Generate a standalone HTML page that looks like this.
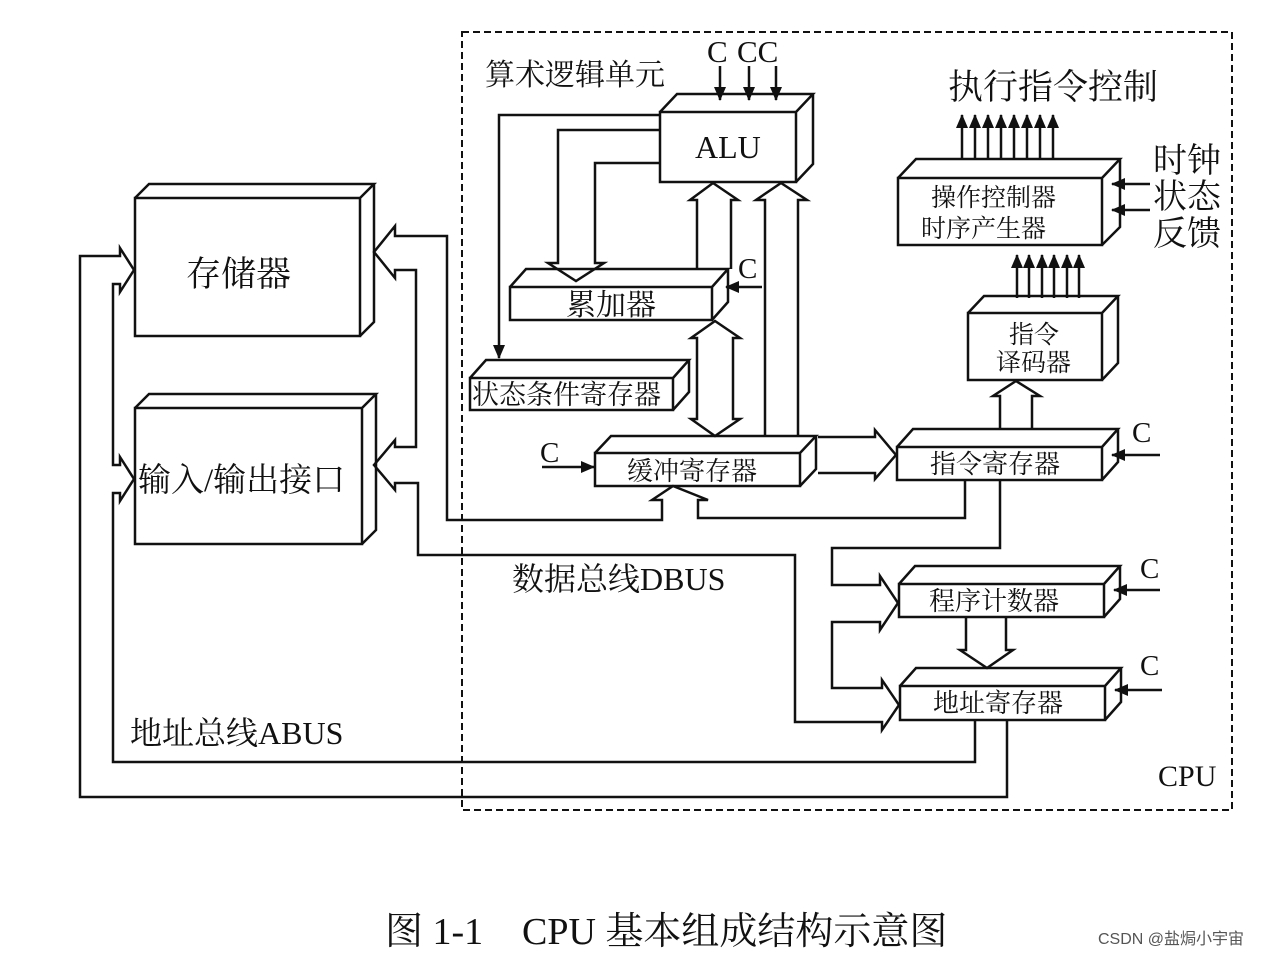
<!DOCTYPE html>
<html><head><meta charset="utf-8"><style>
html,body{margin:0;padding:0;background:#fff;}
svg{display:block;}
text{font-family:"Liberation Serif","Noto Serif CJK SC","Noto Sans CJK SC",serif;fill:#111;}
</style></head><body>
<svg width="1286" height="956" viewBox="0 0 1286 956" xmlns="http://www.w3.org/2000/svg">
<defs>
<marker id="ahb" markerWidth="14" markerHeight="12" refX="13" refY="6" orient="auto" markerUnits="userSpaceOnUse">
<path d="M0,0 L14,6 L0,12 Z" fill="#111"/></marker>
</defs>
<g fill="none" stroke="#111" stroke-width="2.5" stroke-linejoin="miter">
<rect x="462" y="32" width="770" height="778" stroke-dasharray="7,4" stroke-width="2"/>
<path d="M135,198 H360 V336 H135 Z M135,198 L149,184 H374 L360,198 M374,184 V322 L360,336" fill="#fff"/>
<path d="M135,408 H362 V544 H135 Z M135,408 L149,394 H376 L362,408 M376,394 V530 L362,544" fill="#fff"/>
<path d="M660,112 H796 V182 H660 Z M660,112 L677,94 H813 L796,112 M813,94 V164 L796,182" fill="#fff"/>
<path d="M510,287 H712 V320 H510 Z M510,287 L526,269 H728 L712,287 M728,269 V302 L712,320" fill="#fff"/>
<path d="M470,378 H673 V410 H470 Z M470,378 L486,360 H689 L673,378 M689,360 V392 L673,410" fill="#fff"/>
<path d="M595,453 H800 V486 H595 Z M595,453 L611,436 H816 L800,453 M816,436 V469 L800,486" fill="#fff"/>
<path d="M897,447 H1102 V480 H897 Z M897,447 L913,429 H1118 L1102,447 M1118,429 V462 L1102,480" fill="#fff"/>
<path d="M899,584 H1104 V617 H899 Z M899,584 L915,566 H1120 L1104,584 M1120,566 V599 L1104,617" fill="#fff"/>
<path d="M900,686 H1105 V720 H900 Z M900,686 L916,668 H1121 L1105,686 M1121,668 V702 L1105,720" fill="#fff"/>
<path d="M968,313 H1102 V380 H968 Z M968,313 L984,296 H1118 L1102,313 M1118,296 V363 L1102,380" fill="#fff"/>
<path d="M898,178 H1102 V245 H898 Z M898,178 L916,159 H1120 L1102,178 M1120,159 V227 L1102,245" fill="#fff"/>
<path d="M965,480 L965,518 L698,518 L698,500 L708,500 L673,486 L652,500 L662,500 L662,520 L447,520 L447,236 L395,236 L395,226 L374,252 L395,278 L395,270 L416,270 L416,447 L395,447 L395,440 L374,465 L395,490 L395,483 L418,483 L418,555 L795,555 L795,722 L882,722 L882,730 L899,705 L882,680 L882,688 L832,688 L832,622 L880,622 L880,630 L898,603 L880,576 L880,585 L832,585 L832,548 L1000,548 L1000,480"/>
<path d="M1007,720 L1007,797 L80,797 L80,256 L120,256 L120,248 L134,270 L120,292 L120,284 L113,284 L113,465 L120,465 L120,457 L134,479 L120,501 L120,493 L113,493 L113,762 L975,762 L975,720"/>
<path d="M660,115 L499,115 L499,358" marker-end="url(#ahb)"/>
<path d="M660,130 L558,130 L558,263 L548,263 L576,281 L604,263 L595,263 L595,163 L660,163"/>
<path d="M697,269 L697,200 L690,200 L713,183 L738,200 L731,200 L731,269"/>
<path d="M697,338 L691,338 L715,321 L740,338 L733,338 L733,419 L740,419 L715,436 L691,419 L697,419 Z"/>
<path d="M765,436 L765,200 L756,200 L781,183 L807,200 L798,200 L798,436"/>
<path d="M818,437 L875,437 L875,430 L896,455 L875,479 L875,473 L818,473"/>
<path d="M966,617 L966,650 L960,650 L987,668 L1013,650 L1006,650 L1006,617"/>
<path d="M1000,429 L1000,396 L993,396 L1016,381 L1040,396 L1032,396 L1032,429"/>
</g>
<g stroke="#111" stroke-width="2.5" fill="none">
<line x1="720" y1="66" x2="720" y2="100" marker-end="url(#ahb)"/>
<line x1="749" y1="66" x2="749" y2="100" marker-end="url(#ahb)"/>
<line x1="776" y1="66" x2="776" y2="100" marker-end="url(#ahb)"/>
<line x1="762" y1="287" x2="726" y2="287" marker-end="url(#ahb)"/>
<line x1="542" y1="467" x2="594" y2="467" marker-end="url(#ahb)"/>
<line x1="1160" y1="455" x2="1112" y2="455" marker-end="url(#ahb)"/>
<line x1="1160" y1="590" x2="1114" y2="590" marker-end="url(#ahb)"/>
<line x1="1162" y1="690" x2="1115" y2="690" marker-end="url(#ahb)"/>
<line x1="1150" y1="184" x2="1112" y2="184" marker-end="url(#ahb)"/>
<line x1="1150" y1="210" x2="1112" y2="210" marker-end="url(#ahb)"/>
<line x1="962" y1="160" x2="962" y2="115" marker-end="url(#ahb)"/>
<line x1="975" y1="160" x2="975" y2="115" marker-end="url(#ahb)"/>
<line x1="988" y1="160" x2="988" y2="115" marker-end="url(#ahb)"/>
<line x1="1001" y1="160" x2="1001" y2="115" marker-end="url(#ahb)"/>
<line x1="1014" y1="160" x2="1014" y2="115" marker-end="url(#ahb)"/>
<line x1="1027" y1="160" x2="1027" y2="115" marker-end="url(#ahb)"/>
<line x1="1040" y1="160" x2="1040" y2="115" marker-end="url(#ahb)"/>
<line x1="1053" y1="160" x2="1053" y2="115" marker-end="url(#ahb)"/>
<line x1="1017" y1="298" x2="1017" y2="255" marker-end="url(#ahb)"/>
<line x1="1029" y1="298" x2="1029" y2="255" marker-end="url(#ahb)"/>
<line x1="1042" y1="298" x2="1042" y2="255" marker-end="url(#ahb)"/>
<line x1="1054" y1="298" x2="1054" y2="255" marker-end="url(#ahb)"/>
<line x1="1067" y1="298" x2="1067" y2="255" marker-end="url(#ahb)"/>
<line x1="1079" y1="298" x2="1079" y2="255" marker-end="url(#ahb)"/>
</g>
<g>
<text x="485" y="85" font-size="30">算术逻辑单元</text>
<text x="707" y="62" font-size="31">C</text>
<text x="737" y="62" font-size="31">CC</text>
<text x="738" y="278" font-size="29">C</text>
<text x="540" y="462" font-size="29">C</text>
<text x="1132" y="442" font-size="29">C</text>
<text x="1140" y="578" font-size="29">C</text>
<text x="1140" y="675" font-size="29">C</text>
<text x="948" y="99" font-size="35">执行指令控制</text>
<text x="1153" y="172" font-size="34">时钟</text>
<text x="1153" y="208" font-size="34">状态</text>
<text x="1153" y="245" font-size="34">反馈</text>
<text x="186" y="286" font-size="35">存储器</text>
<text x="138" y="491" font-size="33">输入/输出接口</text>
<text x="695" y="158" font-size="32">ALU</text>
<text x="566" y="315" font-size="30">累加器</text>
<text x="472" y="404" font-size="27">状态条件寄存器</text>
<text x="627" y="480" font-size="26">缓冲寄存器</text>
<text x="930" y="473" font-size="26">指令寄存器</text>
<text x="929" y="610" font-size="26">程序计数器</text>
<text x="933" y="712" font-size="26">地址寄存器</text>
<text x="1009" y="343" font-size="25">指令</text>
<text x="996" y="371" font-size="25">译码器</text>
<text x="931" y="206" font-size="25">操作控制器</text>
<text x="921" y="237" font-size="25">时序产生器</text>
<text x="512" y="590" font-size="32">数据总线DBUS</text>
<text x="130" y="744" font-size="32">地址总线ABUS</text>
<text x="1158" y="786" font-size="30">CPU</text>
<text x="385" y="944" font-size="38">图 1-1</text>
<text x="522" y="944" font-size="38">CPU 基本组成结构示意图</text>
<text x="1098" y="944" font-size="16" style="font-family:'Liberation Sans','Noto Sans CJK SC',sans-serif;fill:#555">CSDN @盐焗小宇宙</text>
</g>
</svg>
</body></html>
